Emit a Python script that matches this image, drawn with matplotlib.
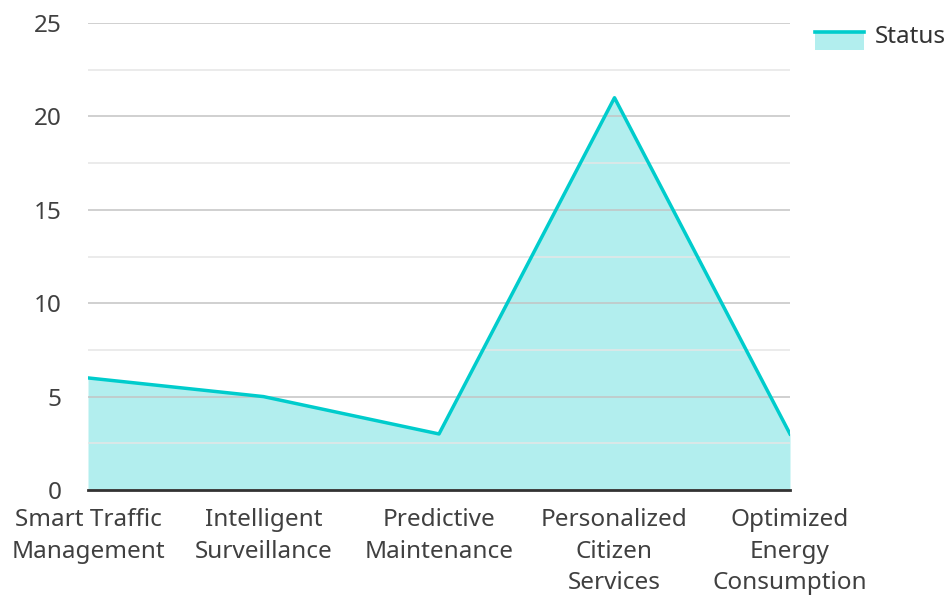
import matplotlib.pyplot as plt
from matplotlib.legend_handler import HandlerBase
from matplotlib.lines import Line2D
from matplotlib.patches import Rectangle
from matplotlib.ticker import MultipleLocator

plt.rcParams["font.family"] = ["Noto Sans", "DejaVu Sans"]

categories = [
    "Smart Traffic\nManagement",
    "Intelligent\nSurveillance",
    "Predictive\nMaintenance",
    "Personalized\nCitizen\nServices",
    "Optimized\nEnergy\nConsumption",
]
status = [6, 5, 3, 21, 3]

LINE_COLOR = "#00cccc"
FILL_COLOR = "#b2eeee"
TEXT_COLOR = "#404040"
FS = 17.5


class AreaHandler(HandlerBase):
    # line on top, filled band under it
    def create_artists(self, legend, orig_handle, xdescent, ydescent,
                       width, height, fontsize, trans):
        top = height * 0.75
        rect = Rectangle((-xdescent, -ydescent - height * 0.55), width,
                         top + height * 0.55, facecolor=FILL_COLOR,
                         edgecolor="none", transform=trans)
        line = Line2D([-xdescent, -xdescent + width], [top, top],
                      color=LINE_COLOR, lw=2.6, transform=trans)
        return [rect, line]


fig = plt.figure(figsize=(9.48, 5.97), dpi=100)
ax = fig.add_axes([88 / 948, 107 / 597, 702 / 948, 467 / 597])

x = list(range(len(categories)))
ax.fill_between(x, status, 0, color=FILL_COLOR, lw=0, zorder=1)
ax.plot(x, status, color=LINE_COLOR, lw=2.5, zorder=3)

ax.set_xlim(0, len(categories) - 1)
ax.set_ylim(0, 25)
ax.yaxis.set_major_locator(MultipleLocator(5))
ax.yaxis.set_minor_locator(MultipleLocator(2.5))
ax.set_axisbelow(False)
ax.grid(True, which="major", axis="y", color="#c4c4c4", lw=1.1, zorder=2)
ax.grid(True, which="minor", axis="y", color="#e6e6e6", lw=1.1, zorder=2)

ax.set_xticks(x)
ax.set_xticklabels(categories, fontsize=FS, color=TEXT_COLOR, linespacing=1.42)
ax.tick_params(axis="y", labelsize=FS, labelcolor=TEXT_COLOR, length=0, pad=19)
ax.tick_params(axis="y", which="minor", length=0)
ax.tick_params(axis="x", length=0, pad=13)

for side in ["top", "right", "left"]:
    ax.spines[side].set_visible(False)
ax.spines["bottom"].set_color("#333333")
ax.spines["bottom"].set_linewidth(2)
ax.spines["bottom"].set_zorder(4)

ax.legend([object()], ["Status"], handler_map={object: AreaHandler()},
          loc="upper left", bbox_to_anchor=(1.036, 0.995),
          frameon=False, fontsize=FS, handlelength=2.0, handleheight=0.55,
          handletextpad=0.45, labelcolor="#333333", borderaxespad=0,
          borderpad=0)

fig.savefig("out.png", dpi=100)
